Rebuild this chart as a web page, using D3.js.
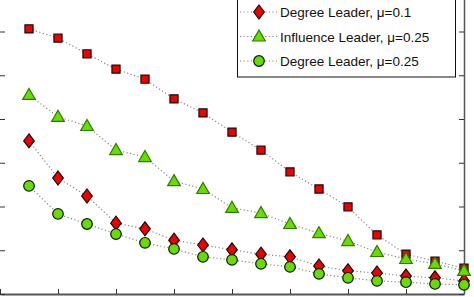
<!DOCTYPE html>
<html>
<head>
<meta charset="utf-8">
<script src="https://cdn.jsdelivr.net/npm/d3@7"></script>
<style>
  body { margin: 0; background: #fff; }
  svg { display: block; }
  .tick line { stroke: #333; }
</style>
</head>
<body>
<script>
// x positions (1..16)
var steps = d3.range(1, 17);

// values
var inflLeader01 = [60.6, 58.5, 54.9, 51.4, 49.1, 44.6, 41.4, 37.0, 32.9, 27.9, 24.0, 19.9, 13.5, 9.1, 7.5, 5.9];
var degLeader01 = [35.0, 26.5, 22.4, 16.2, 14.9, 12.3, 11.2, 10.1, 9.1, 8.5, 6.4, 5.3, 4.8, 4.1, 3.7, 3.0];
var inflLeader025 = [45.5, 40.5, 38.4, 32.9, 31.3, 25.8, 24.0, 19.7, 18.5, 16.0, 13.9, 12.1, 9.6, 8.0, 6.9, 5.3];
var degLeader025 = [24.7, 18.3, 16.0, 13.7, 11.7, 10.3, 8.5, 7.8, 6.9, 6.2, 4.6, 3.7, 3.0, 2.7, 2.3, 2.1];

var yTicks = [0, 10, 20, 30, 40, 50, 60];
var xTicks = [0, 2, 4, 6, 8, 10, 12, 14, 16];

var legendLabels = ["Influence Leader, \u03bc=0.1", "Degree Leader, \u03bc=0.1", "Influence Leader, \u03bc=0.25", "Degree Leader, \u03bc=0.25"];

var series = [
    { name: legendLabels[0], values: inflLeader01, shape: "square", fill: "#ee0000", stroke: "#111" },
    { name: legendLabels[1], values: degLeader01, shape: "diamond", fill: "#ee0000", stroke: "#111" },
    { name: legendLabels[2], values: inflLeader025, shape: "triangle", fill: "#66dd00", stroke: "#2f7a00" },
    { name: legendLabels[3], values: degLeader025, shape: "circle", fill: "#66dd00", stroke: "#111" }
];

var W = 474, H = 297;

var svg = d3.select("body").append("svg")
    .attr("width", W)
    .attr("height", H);

var x = d3.scaleLinear().domain([0, 16]).range([0, 464]);
var y = d3.scaleLinear().domain([0, 70]).range([294, -12.25]);

// 軸 (内向きの目盛り, ラベルは画面外なので描かない)
svg.append("g")
    .attr("transform", "translate(0," + y(0) + ")")
    .call(d3.axisBottom(x).tickValues(xTicks).tickSizeInner(-5).tickSizeOuter(0).tickFormat(function() { return ""; }))
    .call(function(g) { g.select(".domain").attr("stroke", "#555").attr("stroke-width", 2); });

svg.append("g")
    .attr("transform", "translate(" + x(0) + ",0)")
    .call(d3.axisLeft(y).tickValues(yTicks).tickSizeInner(-5).tickSizeOuter(0).tickFormat(function() { return ""; }))
    .call(function(g) { g.select(".domain").remove(); });

svg.append("g")
    .attr("transform", "translate(" + x(16) + ",0)")
    .call(d3.axisRight(y).tickValues(yTicks).tickSizeInner(-5).tickSizeOuter(0).tickFormat(function() { return ""; }))
    .call(function(g) { g.select(".domain").attr("stroke", "#555").attr("stroke-width", 1.5); });

function symbolFor(shape) {
    if (shape === "square") return d3.symbol().type(d3.symbolSquare).size(66)();
    if (shape === "triangle") return "M0,-6.5L6.3,4.5L-6.3,4.5Z";
    if (shape === "diamond") return "M0,-7L5.3,0L0,7L-5.3,0Z";
    return d3.symbol().type(d3.symbolCircle).size(88)();
}

var line = d3.line()
    .x(function(d, i) { return x(steps[i]); })
    .y(function(d) { return y(d); });

series.forEach(function(s) {
    svg.append("path")
        .datum(s.values)
        .attr("d", line)
        .style("fill", "none")
        .style("stroke", "#888")
        .style("stroke-width", "1.2px")
        .style("stroke-dasharray", "1.2,2.4");
});

series.forEach(function(s) {
    svg.append("g").selectAll("path")
        .data(s.values)
        .join("path")
        .attr("transform", function(d, i) { return "translate(" + x(steps[i]) + "," + y(d) + ")"; })
        .attr("d", symbolFor(s.shape))
        .style("fill", s.fill)
        .style("stroke", s.stroke)
        .style("stroke-width", "1.2px");
});

// 凡例
var legend = svg.append("g");
legend.append("rect")
    .attr("x", 237.5).attr("y", -30)
    .attr("width", 218).attr("height", 107)
    .style("fill", "#fff")
    .style("stroke", "#111")
    .style("stroke-width", "1px");

var rows = legend.selectAll("g.row")
    .data(series.slice(1))
    .join("g")
    .attr("class", "row")
    .attr("transform", function(d, i) { return "translate(0," + (12 + i * 24.5) + ")"; });

rows.append("line")
    .attr("x1", 240).attr("x2", 277)
    .style("stroke", "#888")
    .style("stroke-width", "1.2px")
    .style("stroke-dasharray", "1.2,2.4");

rows.append("path")
    .attr("transform", "translate(259,0)")
    .attr("d", function(d) { return symbolFor(d.shape); })
    .style("fill", function(d) { return d.fill; })
    .style("stroke", function(d) { return d.stroke; })
    .style("stroke-width", "1.2px");

rows.append("text")
    .attr("x", 280)
    .attr("y", 5)
    .style("font-family", "Liberation Sans, Arial, sans-serif")
    .style("font-size", "13.5px")
    .style("fill", "#111")
    .text(function(d) { return d.name; });
</script>
</body>
</html>
